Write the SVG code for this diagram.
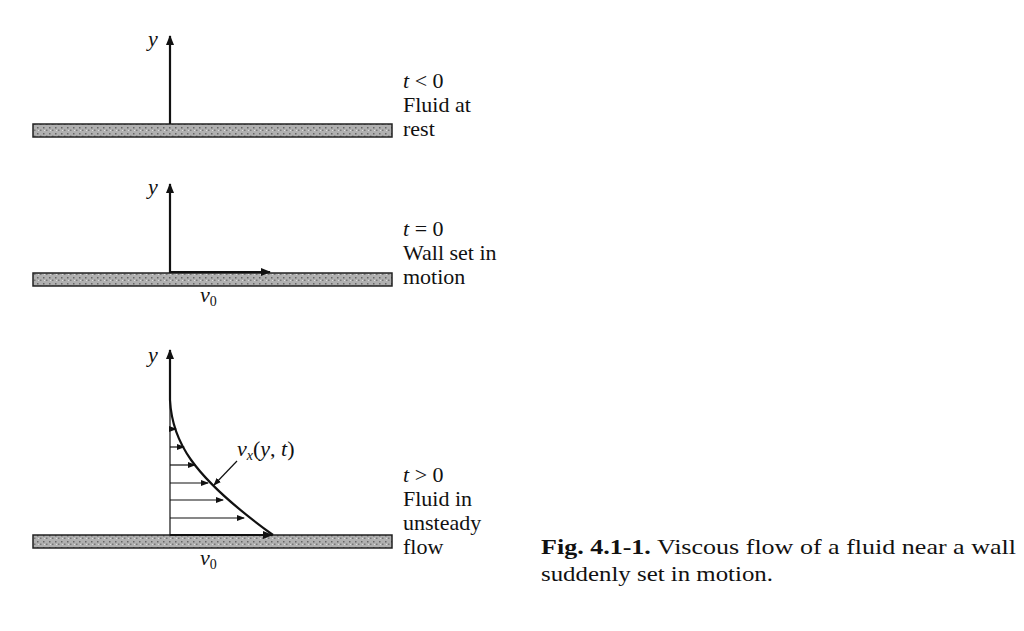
<svg xmlns="http://www.w3.org/2000/svg" width="1024" height="631" viewBox="0 0 1024 631">
<style>
text{font-family:"Liberation Serif",serif;font-size:22px;fill:#111}
.i{font-style:italic}
.wall{fill:url(#st);stroke:#222;stroke-width:1.5}
.ax{stroke:#111;stroke-width:2.2;fill:none}
.th{stroke:#111;stroke-width:1.2;fill:none}
</style>
<defs>
<pattern id="st" width="6" height="6" patternUnits="userSpaceOnUse">
<rect width="6" height="6" fill="#b0b0b0"/><rect x="1" y="1" width="1.5" height="1.5" fill="#666"/><rect x="4" y="3.5" width="1.5" height="1.5" fill="#777"/><rect x="2" y="4" width="1" height="1" fill="#ddd"/>
</pattern>
<marker id="ah" markerWidth="10" markerHeight="8" refX="9" refY="4" orient="auto" markerUnits="userSpaceOnUse"><path d="M0,0 L10,4 L0,8 z" fill="#111"/></marker>
<marker id="as" markerWidth="8" markerHeight="6" refX="7" refY="3" orient="auto" markerUnits="userSpaceOnUse"><path d="M0,0 L8,3 L0,6 z" fill="#111"/></marker>
</defs>
<g id="panel1">
<rect class="wall" x="33" y="124" width="359" height="13"/>
<line class="ax" x1="170" y1="124" x2="170" y2="36" marker-end="url(#ah)"/>
<text class="i" x="148" y="46">y</text>
<text x="403" y="88"><tspan class="i">t</tspan> &lt; 0</text>
<text x="403" y="112">Fluid at</text>
<text x="403" y="136">rest</text>
</g>
<g id="panel2">
<rect class="wall" x="33" y="273" width="359" height="13"/>
<line class="ax" x1="170" y1="273" x2="170" y2="184" marker-end="url(#ah)"/>
<line class="ax" x1="170" y1="272" x2="270" y2="272" marker-end="url(#ah)"/>
<text class="i" x="148" y="194">y</text>
<text class="i" x="200" y="302">v<tspan font-size="14" dy="4" font-style="normal">0</tspan></text>
<text x="403" y="236"><tspan class="i">t</tspan> = 0</text>
<text x="403" y="260">Wall set in</text>
<text x="403" y="284">motion</text>
</g>
<g id="panel3">
<rect class="wall" x="33" y="535" width="359" height="13"/>
<line class="ax" x1="170" y1="400" x2="170" y2="350" marker-end="url(#ah)"/>
<line class="th" x1="170" y1="535" x2="170" y2="400"/>
<path class="ax" d="M170,400 C172,440 190,475 273,535"/>
<text class="i" x="148" y="362">y</text>
<text class="i" x="200" y="565">v<tspan font-size="14" dy="4" font-style="normal">0</tspan></text>
<text class="i" x="237" y="456">v<tspan font-size="14" dy="4">x</tspan><tspan dy="-4" font-style="normal">(</tspan>y<tspan font-style="normal">, </tspan>t<tspan font-style="normal">)</tspan></text>
<text x="403" y="482"><tspan class="i">t</tspan> &gt; 0</text>
<text x="403" y="506">Fluid in</text>
<text x="403" y="530">unsteady</text>
<text x="403" y="554">flow</text>
</g>
<g id="connectors">
<line class="th" x1="170" y1="429" x2="176" y2="429" marker-end="url(#as)"/>
<line class="th" x1="170" y1="447" x2="184" y2="447" marker-end="url(#as)"/>
<line class="th" x1="170" y1="465" x2="195" y2="465" marker-end="url(#as)"/>
<line class="th" x1="170" y1="483" x2="208" y2="483" marker-end="url(#as)"/>
<line class="th" x1="170" y1="500" x2="223" y2="500" marker-end="url(#as)"/>
<line class="th" x1="170" y1="518" x2="244" y2="518" marker-end="url(#as)"/>
<line class="ax" x1="170" y1="535" x2="272" y2="535" marker-end="url(#ah)"/>
<line class="th" x1="237" y1="461" x2="214" y2="485" marker-end="url(#as)"/>
</g>
<g id="caption">
<text x="541" y="554" font-size="24" textLength="475" lengthAdjust="spacingAndGlyphs"><tspan font-weight="bold">Fig. 4.1-1.</tspan>  Viscous flow of a fluid near a wall</text>
<text x="541" y="581" font-size="24" textLength="232" lengthAdjust="spacingAndGlyphs">suddenly set in motion.</text>
</g>
</svg>
